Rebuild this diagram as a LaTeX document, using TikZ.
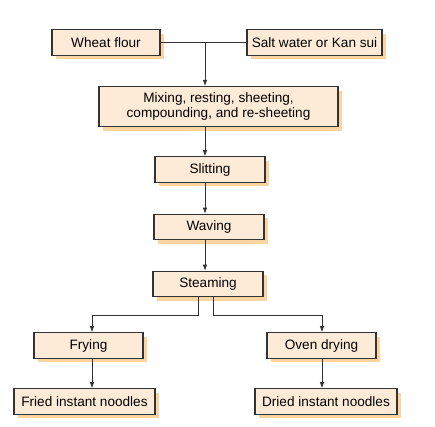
\documentclass[tikz,border=0pt]{standalone}
\usepackage{fontspec}
\setmainfont{Liberation Sans}
\usetikzlibrary{arrows.meta,shadows}
\definecolor{boxfill}{HTML}{FDEBD8}
\definecolor{boxshade}{HTML}{FBD4A2}
\definecolor{boxline}{HTML}{333333}
\tikzstyle{stepbox}=[draw=boxline, line width=1.1pt, fill=boxfill, inner sep=0pt, align=center, font=\fontsize{13.6}{15.7}\selectfont, minimum height=\stepH, drop shadow={fill=boxshade, opacity=1, shadow xshift=4pt, shadow yshift=-4pt}]
\tikzstyle{flow}=[draw=boxline, line width=0.8pt]
\tikzstyle{flow>}=[flow, -{Latex[length=6pt,width=4.5pt]}]
\newcommand{\stepH}{25.5}

\begin{document}
\begin{tikzpicture}[x=1pt,y=-1pt]
\useasboundingbox (0,0) rectangle (435,426);
% boxes
\node[stepbox, minimum width=108] (flour) at (106,42.5) {Wheat flour};
\node[stepbox, minimum width=135] (salt) at (314.5,42.5) {Salt water or Kan sui};
\node[stepbox, minimum width=239, minimum height=40] (mix) at (218.5,106.5) {Mixing, resting, sheeting,\\compounding, and re-sheeting};
\node[stepbox, minimum width=110] (slit) at (210,169.5) {Slitting};
\node[stepbox, minimum width=110] (wave) at (209,227) {Waving};
\node[stepbox, minimum width=110] (steam) at (208,284) {Steaming};
\node[stepbox, minimum width=109] (fry) at (88.5,345.5) {Frying};
\node[stepbox, minimum width=109] (oven) at (321.5,345.5) {Oven drying};
\node[stepbox, minimum width=141] (fried) at (84.5,401.5) {Fried instant noodles};
\node[stepbox, minimum width=142] (dried) at (326,401.5) {Dried instant noodles};
% connectors
\coordinate (join) at (205,42.5);
\coordinate (lstem) at (198,315);
\coordinate (rstem) at (213,315);
\coordinate (lfork) at (92,315);
\coordinate (rfork) at (322,315);
\draw[flow] (flour.east) -- (salt.west);
\draw[flow>] (join) -- (join |- mix.north);
\draw[flow>] (mix.south -| join) -- (slit.north -| join);
\draw[flow>] (slit.south -| join) -- (wave.north -| join);
\draw[flow>] (wave.south -| join) -- (steam.north -| join);
\draw[flow>] (steam.south -| lstem) -- (lstem) -- (lfork) -- (fry.north -| lfork);
\draw[flow>] (steam.south -| rstem) -- (rstem) -- (rfork) -- (oven.north -| rfork);
\draw[flow>] (fry.south -| lfork) -- (fried.north -| lfork);
\draw[flow>] (oven.south -| rfork) -- (dried.north -| rfork);
\end{tikzpicture}
\end{document}
